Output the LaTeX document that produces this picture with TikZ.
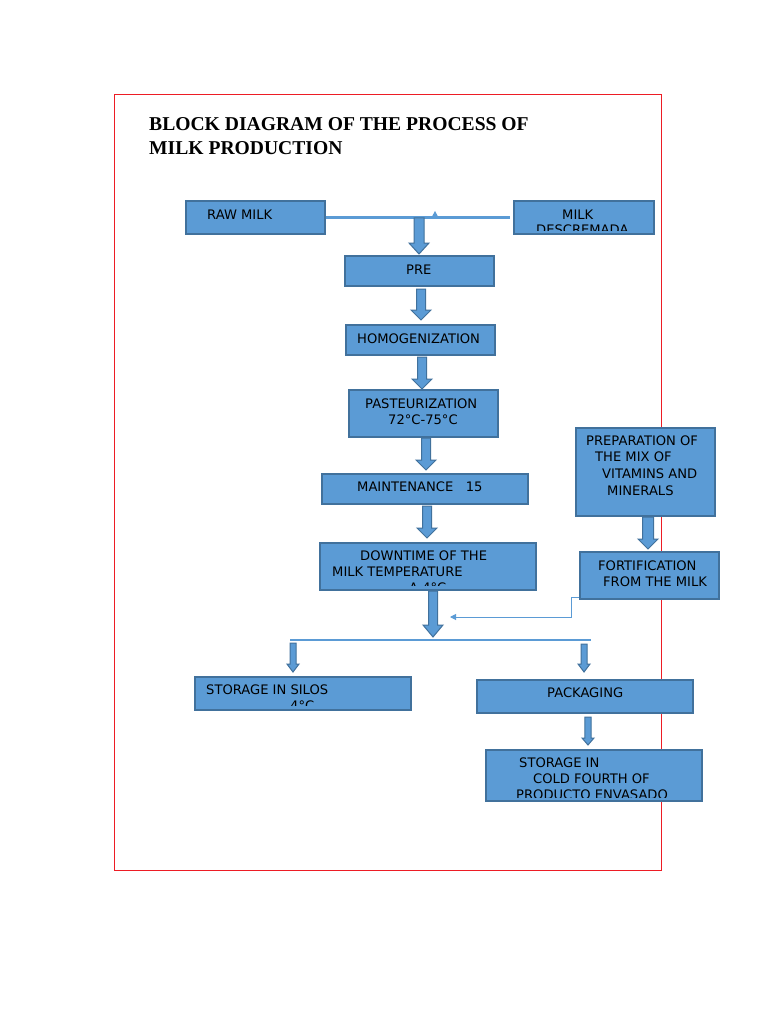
\documentclass[tikz,border=0pt]{standalone}
\usepackage{fontspec}
\setmainfont{DejaVu Sans}
\newfontfamily\titlefont{Liberation Serif}
\usetikzlibrary{fit,arrows.meta}
\definecolor{boxfill}{RGB}{91,155,213}
\definecolor{boxedge}{RGB}{65,113,156}
\definecolor{framered}{RGB}{237,28,36}
\tikzset{
  procbox/.style={rectangle, draw=boxedge, fill=boxfill, line width=1.3pt, inner sep=0pt},
  btext/.style={anchor=base west, inner sep=0pt, text=black, font=\fontsize{13.1pt}{16pt}\selectfont},
  titletext/.style={anchor=base west, inner sep=0pt, text=black, font=\titlefont\bfseries\fontsize{19.6pt}{24pt}\selectfont},
  blockarrow/.style={draw=boxedge, fill=boxfill, line width=1pt, line join=miter},
  feedline/.style={draw=boxfill, line width=2.6pt},
  thinconn/.style={draw=boxfill, line width=1pt, -{Triangle[width=6pt,length=6pt]}},
}
\newcommand\pbox[5]{\node[procbox, fit={(#2,#3) (#4,#5)}] (#1) {};}
\newcommand\btxt[4]{\node[btext] (#1) at (#2,#3) {#4};}
\newcommand\barr[6]{\draw[blockarrow] (#1-#4,#2) -- (#1+#4,#2) -- (#1+#4,#3-#6) -- (#1+#5,#3-#6) -- (#1,#3) -- (#1-#5,#3-#6) -- (#1-#4,#3-#6) -- cycle;}
\begin{document}
\begin{tikzpicture}[x=1pt,y=-1pt]
\useasboundingbox (0,0) rectangle (768,1024);
\fill[white] (0,0) rectangle (768,1024);
% red frame
\draw[framered, line width=1pt] (114,95) rectangle (661,870);
% title
\node[titletext] (title1) at (149,131) {BLOCK DIAGRAM OF THE PROCESS OF};
\node[titletext] (title2) at (149,155) {MILK PRODUCTION};

% boxes
\pbox{raw}{186}{201}{325}{234}
\pbox{desc}{514}{201}{654}{234}
\pbox{pre}{345}{256}{494}{286}
\pbox{homog}{346}{325}{495}{355}
\pbox{past}{349}{390}{498}{437}
\pbox{maint}{322}{474}{528}{504}
\pbox{down}{320}{543}{536}{590}
\pbox{prep}{576}{428}{715}{516}
\pbox{fort}{580}{552}{719}{599}
\pbox{silos}{195}{677}{411}{710}
\pbox{pack}{477}{680}{693}{713}
\pbox{cold}{486}{750}{702}{801}

% top joining line
\draw[feedline] (raw.east) -- ([xshift=-3pt]desc.west);
\fill[boxfill] (432,216.5) -- (435,211) -- (438,216.5) -- cycle;

% split line
\coordinate (splitL) at (290,640);
\coordinate (splitR) at (591,640);
\draw[feedline] (splitL) -- (splitR);

% fortification feed
\coordinate (fortend) at (450,617);
\draw[thinconn] ([yshift=2pt]fort.south west) -- ++(-8,0) |- (fortend);

% block arrows
\barr{419}{218}{254}{5}{10}{11}
\barr{421}{289}{320}{4.5}{10}{10}
\barr{422}{357}{389}{4.5}{10}{10}
\barr{426}{438}{470}{4.5}{10}{10}
\barr{427}{506}{538}{4.5}{10}{10}
\barr{433}{591}{637}{4.5}{10}{12}
\barr{293}{643}{672}{3}{6}{8}
\barr{584}{644}{672}{3}{6}{8}
\barr{588}{717}{745}{3.2}{6}{7}
\barr{648}{517}{549}{5.5}{10}{10}

% texts
\btxt{rawt}{207}{219}{RAW MILK}
\begin{scope}
\clip (514,201) rectangle (654,231);
\btxt{desct1}{562}{219}{MILK}
\btxt{desct2}{536}{234}{DESCREMADA}
\end{scope}
\btxt{pret}{406}{274}{PRE}
\btxt{homogt}{357}{343}{HOMOGENIZATION}
\btxt{pastt1}{365}{408}{PASTEURIZATION}
\btxt{pastt2}{388}{424}{72°C-75°C}
\btxt{maintt}{357}{491}{MAINTENANCE\ \ \ 15}
\begin{scope}
\clip (320,543) rectangle (536,585.5);
\btxt{downt1}{360}{560}{DOWNTIME OF THE}
\btxt{downt2}{332}{576}{MILK TEMPERATURE}
\btxt{downt3}{409}{592}{A 4°C}
\end{scope}
\btxt{prept1}{586}{445}{PREPARATION OF}
\btxt{prept2}{595}{461}{THE MIX OF}
\btxt{prept3}{602}{478}{VITAMINS AND}
\btxt{prept4}{607}{495}{MINERALS}
\btxt{fortt1}{598}{570}{FORTIFICATION}
\btxt{fortt2}{603}{586}{FROM THE MILK}
\begin{scope}
\clip (195,677) rectangle (411,705.5);
\btxt{silost1}{206}{694}{STORAGE IN SILOS}
\btxt{silost2}{290}{710}{4°C}
\end{scope}
\btxt{packt}{547}{697}{PACKAGING}
\begin{scope}
\clip (486,750) rectangle (702,797.5);
\btxt{coldt1}{519}{767}{STORAGE IN}
\btxt{coldt2}{533}{783}{COLD FOURTH OF}
\btxt{coldt3}{516}{799}{PRODUCTO ENVASADO}
\end{scope}
\end{tikzpicture}
\end{document}
